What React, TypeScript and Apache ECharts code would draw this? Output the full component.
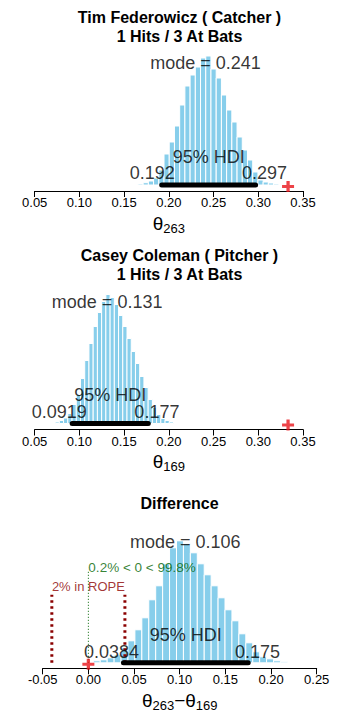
import React, { useEffect, useRef } from "react";
import * as echarts from "echarts";

// ---------- data ----------
const panelTitles1 = ["Tim Federowicz ( Catcher )", "1 Hits / 3 At Bats"];
const panelTitles2 = ["Casey Coleman ( Pitcher )", "1 Hits / 3 At Bats"];
const panelTitles3 = ["Difference"];

// histogram 1 (theta 263)
const bins1Start = 0.16544;
const bins1Width = 0.005833;
const counts1 = [1, 2.3, 4, 7, 15, 31, 43, 59, 80, 99, 110, 118, 127, 129, 116, 107, 90, 75, 63, 48, 35, 25, 13, 5, 3, 2, 1];
const mode1 = 0.241;
const hdi1 = [0.192, 0.297];
const compVal1 = 0.3333;

// histogram 2 (theta 169)
const bins2Start = 0.07284;
const bins2Width = 0.004728;
const counts2 = [1.5, 3, 5.5, 10, 19, 29, 45, 63, 80, 97, 111, 122, 129, 126, 119, 108, 97, 85, 72, 60, 47, 36, 24, 16, 9, 5, 3, 1.5];
const mode2 = 0.131;
const hdi2 = [0.0919, 0.177];
const compVal2 = 0.3333;

// histogram 3 (difference)
const bins3Start = 0.00542;
const bins3Width = 0.007589;
const counts3 = [2, 3, 5, 8, 15, 22, 33, 45, 63, 77, 99, 115, 122, 119, 110, 99, 88, 77, 65, 53, 42, 29, 20, 11, 6, 4, 2, 1];
const mode3 = 0.106;
const hdi3 = [0.0384, 0.175];
const compVal3 = 0.0;
const rope3 = [-0.04, 0.04];
const ropeText = "2% in ROPE";
const compText = "0.2% < 0 < 99.8%";

const xRange12 = [0.05, 0.35];
const xRange3 = [-0.05, 0.25];
const tickStep = 0.05;

// ---------- styles ----------
const FONT = "'Liberation Sans', Arial, Helvetica, sans-serif";
const BAR = "#87CEEB";
const RED = "#E8141A";
const DARKRED = "#8B0000";
const DARKGREEN = "#006400";
const PLUS = "path://M4,0H7V4H11V7H7V11H4V7H0V4H4Z";

function hist(start: number, width: number, counts: number[]) {
  return counts.map((c, i) => [start + i * width, start + (i + 1) * width, c]);
}

function fmt(v: number) {
  return v.toFixed(2);
}

const grids = [
  { left: 34.7, width: 268.3, top: 50, height: 141 },
  { left: 34.7, width: 268.3, top: 288.5, height: 141 },
  { left: 42.7, width: 274, top: 532.3, height: 136 },
];

function xAxisCfg(idx: number, range: number[], name: string) {
  return {
    gridIndex: idx,
    type: "value",
    min: range[0],
    max: range[1],
    interval: tickStep,
    axisLine: { show: true, onZero: false, lineStyle: { color: "#000", width: 1 } },
    axisTick: { show: true, length: 6, lineStyle: { color: "#000", width: 1 } },
    axisLabel: {
      formatter: fmt,
      fontSize: 13,
      color: "#000",
      fontFamily: FONT,
      margin: 5,
      showMinLabel: true,
      showMaxLabel: true,
    },
    splitLine: { show: false },
    name,
    nameLocation: "middle",
    nameGap: 22,
    nameTextStyle: {
      color: "#000",
      fontFamily: FONT,
      rich: {
        t: { fontSize: 19, fontFamily: FONT, color: "#000", lineHeight: 20, verticalAlign: "middle" },
        s: { fontSize: 13, fontFamily: FONT, color: "#000", lineHeight: 20, padding: [10, 0, 0, 0], verticalAlign: "middle" },
      },
    },
  };
}

function yAxisCfg(idx: number, min: number, max: number) {
  return { gridIndex: idx, type: "value", min, max, show: false };
}

function histSeries(idx: number, data: number[][]) {
  return {
    type: "custom",
    xAxisIndex: idx,
    yAxisIndex: idx,
    silent: true,
    z: 2,
    data,
    encode: { x: [0, 1], y: 2 },
    renderItem: (params: any, api: any) => {
      const p0 = api.coord([api.value(0), api.value(2)]);
      const p1 = api.coord([api.value(1), 0]);
      return {
        type: "rect",
        shape: { x: p0[0], y: p0[1], width: p1[0] - p0[0], height: p1[1] - p0[1] },
        style: { fill: BAR, stroke: "#fff", lineWidth: 1 },
      };
    },
  };
}

function lineSeries(idx: number, pts: number[][], style: any, z = 4) {
  return {
    type: "line",
    xAxisIndex: idx,
    yAxisIndex: idx,
    silent: true,
    symbol: "none",
    z,
    data: pts,
    lineStyle: style,
  };
}

function plusSeries(idx: number, x: number) {
  return {
    type: "scatter",
    xAxisIndex: idx,
    yAxisIndex: idx,
    silent: true,
    z: 5,
    symbol: PLUS,
    symbolSize: [12, 11],
    itemStyle: { color: RED },
    data: [[x, -1.5]],
  };
}

type Txt = { x: number; y: number; text: string; size: number; color?: string; dx?: number; align?: string };

function textSeries(idx: number, items: Txt[]) {
  return {
    type: "scatter",
    xAxisIndex: idx,
    yAxisIndex: idx,
    silent: true,
    z: 6,
    symbolSize: 0,
    data: items.map((t) => ({
      value: [t.x, t.y],
      label: {
        show: true,
        position: "inside",
        formatter: t.text,
        fontSize: t.size,
        fontFamily: FONT,
        color: t.color || "#000",
        align: t.align || "center",
        verticalAlign: "middle",
        offset: [t.dx || 0, 0],
      },
    })),
  };
}

function titleCfg(text: string, top: number) {
  return {
    text,
    left: "center",
    top,
    padding: 0,
    textStyle: { fontSize: 16, fontWeight: "bold", color: "#000", fontFamily: FONT },
  };
}

export default function App() {
  const ref = useRef<HTMLDivElement>(null);
  useEffect(() => {
    if (!ref.current) return;
    const chart = echarts.init(ref.current, undefined, { renderer: "svg" });
    const option: any = {
      animation: false,
      backgroundColor: "#fff",
      title: [
        titleCfg(panelTitles1[0], 9.5),
        titleCfg(panelTitles1[1], 28),
        titleCfg(panelTitles2[0], 247.5),
        titleCfg(panelTitles2[1], 266.5),
        titleCfg(panelTitles3[0], 495.5),
      ],
      grid: grids,
      xAxis: [
        xAxisCfg(0, xRange12, "{t|θ}{s|263}"),
        xAxisCfg(1, xRange12, "{t|θ}{s|169}"),
        xAxisCfg(2, xRange3, "{t|θ}{s|263}{t|−θ}{s|169}"),
      ],
      yAxis: [yAxisCfg(0, -6, 135), yAxisCfg(1, -6, 135), yAxisCfg(2, -5.5, 130.5)],
      series: [
        histSeries(0, hist(bins1Start, bins1Width, counts1)),
        histSeries(1, hist(bins2Start, bins2Width, counts2)),
        histSeries(2, hist(bins3Start, bins3Width, counts3)),
        lineSeries(0, [[hdi1[0], 0], [hdi1[1], 0]], { color: "#000", width: 5, cap: "round" }),
        lineSeries(1, [[hdi2[0], 0], [hdi2[1], 0]], { color: "#000", width: 5, cap: "round" }),
        lineSeries(2, [[hdi3[0], 0], [hdi3[1], 0]], { color: "#000", width: 5, cap: "round" }),
        lineSeries(2, [[rope3[0], 0], [rope3[0], 68]], { color: DARKRED, width: 3, type: [2.5, 3.5] }, 3),
        lineSeries(2, [[rope3[1], 0], [rope3[1], 68]], { color: DARKRED, width: 3, type: [2.5, 3.5] }, 3),
        lineSeries(2, [[compVal3, 0], [compVal3, 91]], { color: DARKGREEN, width: 1, type: [1, 2] }, 3),
        plusSeries(0, compVal1),
        plusSeries(1, compVal2),
        plusSeries(2, compVal3),
        textSeries(0, [
          { x: mode1, y: 121.7, text: "mode = " + mode1, size: 18 },
          { x: (hdi1[0] + hdi1[1]) / 2, y: 28, text: "95% HDI", size: 18 },
          { x: hdi1[0], y: 12, text: String(hdi1[0]), size: 18, dx: -9.5 },
          { x: hdi1[1], y: 12, text: String(hdi1[1]), size: 18, dx: 9 },
        ]),
        textSeries(1, [
          { x: mode2, y: 121.8, text: "mode = " + mode2, size: 18 },
          { x: (hdi2[0] + hdi2[1]) / 2, y: 28.5, text: "95% HDI", size: 18 },
          { x: hdi2[0], y: 11.8, text: String(hdi2[0]), size: 18, dx: -13 },
          { x: hdi2[1], y: 11.8, text: String(hdi2[1]), size: 18, dx: 8.6 },
        ]),
        textSeries(2, [
          { x: mode3, y: 121, text: "mode = " + mode3, size: 18 },
          { x: (hdi3[0] + hdi3[1]) / 2, y: 27.8, text: "95% HDI", size: 18 },
          { x: hdi3[0], y: 11, text: String(hdi3[0]), size: 18, dx: -12 },
          { x: hdi3[1], y: 11, text: String(hdi3[1]), size: 18, dx: 9.4 },
          { x: compVal3, y: 95, text: compText, size: 13.5, color: DARKGREEN, align: "left" },
          { x: (rope3[0] + rope3[1]) / 2, y: 76, text: ropeText, size: 13, color: DARKRED },
        ]),
      ],
    };
    chart.setOption(option);
    return () => chart.dispose();
  }, []);
  return (
    <div
      ref={ref}
      style={{ position: "absolute", left: 0, top: 0, width: 359, height: 719, background: "#fff" }}
    />
  );
}
